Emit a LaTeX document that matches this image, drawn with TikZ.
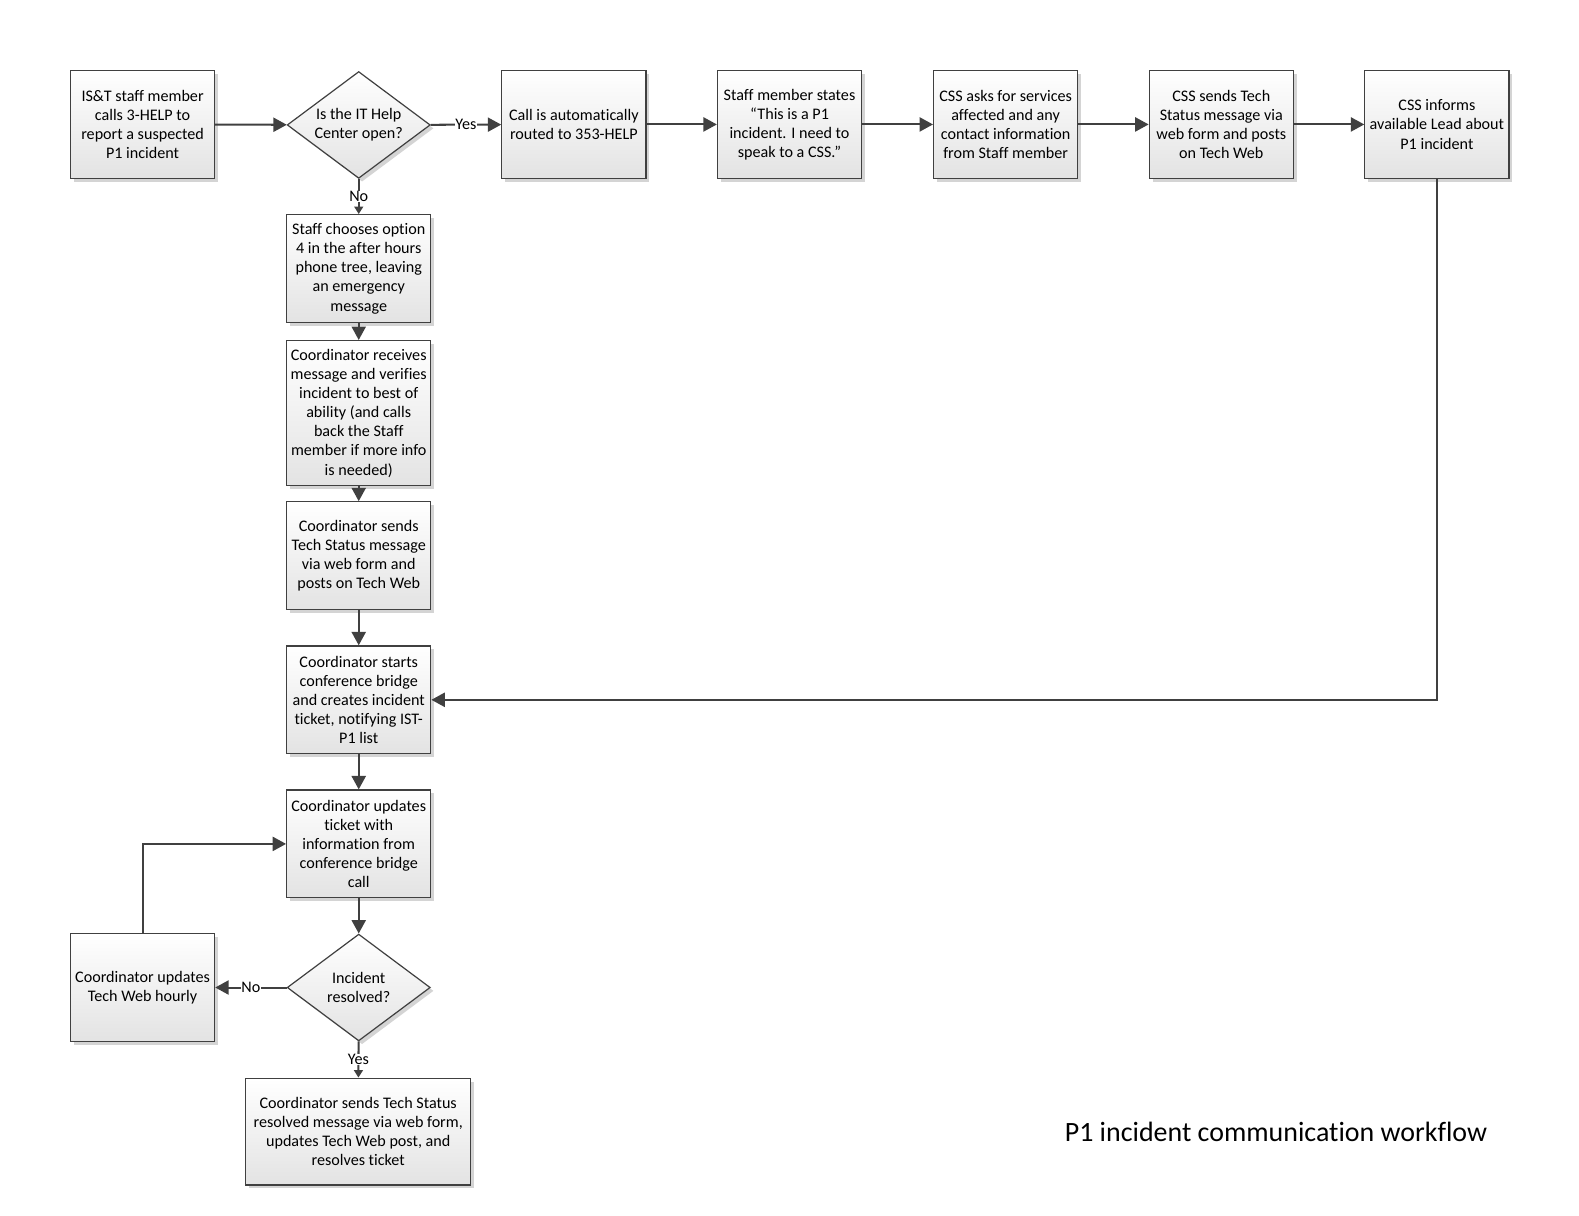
\documentclass[tikz,border=0pt]{standalone}
\usepackage{fontspec}
\setmainfont[Ligatures=NoCommon]{Carlito}
\usetikzlibrary{arrows.meta,shapes.geometric,shadows}
\definecolor{edge}{HTML}{404040}
\definecolor{shd}{HTML}{D4D4D4}
\tikzset{
  boxbase/.style={draw=edge, line width=0.9pt, top color=white, bottom color=black!11,
    general shadow={fill=shd, shadow xshift=2.5pt, shadow yshift=-2.5pt},
    align=center, inner sep=1pt,
    font=\fontsize{12pt}{14.25pt}\selectfont},
  stepbox/.style={boxbase, rectangle, minimum width=107.25pt, minimum height=80.25pt},
  tallbox/.style={boxbase, rectangle, minimum width=107.25pt, minimum height=108pt},
  widebox/.style={boxbase, rectangle, minimum width=167.25pt, minimum height=79.5pt},
  decide/.style={boxbase, diamond, minimum width=106.5pt, minimum height=79.5pt, inner sep=0pt},
  dtext/.style={align=center, font=\fontsize{12pt}{14.25pt}\selectfont},
  flow/.style={draw=edge, line width=1.5pt, -{Triangle[length=10pt,width=10.5pt]}},
  smallflow/.style={draw=edge, line width=1.5pt, -{Triangle[length=5.5pt,width=6.5pt]}},
  lbl/.style={fill=white, inner sep=0.5pt, font=\fontsize{12pt}{14.25pt}\selectfont}
}
\begin{document}
\begin{tikzpicture}[x=0.75pt,y=-0.75pt]
\useasboundingbox (0,0) rectangle (1567,1206.7);
% top row
\node[stepbox] (b1) at (141.5,123.5) {IS\&T staff member\\calls 3-HELP to\\report a suspected\\P1 incident};
\node[decide] (d1) at (356,124) {};
\node[dtext] (d1t) at (356,124) {Is the IT Help\\Center open?};
\node[stepbox] (b3) at (569.5,123.5) {Call is automatically\\routed to 353-HELP};
\node[stepbox] (b4) at (783.5,123.5) {Staff member states\\“This is a P1\\incident. I need to\\speak to a CSS.”};
\node[stepbox] (b5) at (998,123.5) {CSS asks for services\\affected and any\\contact information\\from Staff member};
\node[stepbox] (b6) at (1212,123.5) {CSS sends Tech\\Status message via\\web form and posts\\on Tech Web};
\node[stepbox] (b7) at (1426,123.5) {CSS informs\\available Lead about\\P1 incident};
% column
\node[stepbox] (b8) at (356,266.5) {Staff chooses option\\4 in the after hours\\phone tree, leaving\\an emergency\\message};
\node[tallbox] (b9) at (356,410) {Coordinator receives\\message and verifies\\incident to best of\\ability (and calls\\back the Staff\\member if more info\\is needed)};
\node[stepbox] (b10) at (356,551.5) {Coordinator sends\\Tech Status message\\via web form and\\posts on Tech Web};
\node[stepbox] (b11) at (356,694.5) {Coordinator starts\\conference bridge\\and creates incident\\ticket, notifying IST-\\P1 list};
\node[stepbox] (b12) at (356,837.5) {Coordinator updates\\ticket with\\information from\\conference bridge\\call};
\node[decide] (d2) at (356,980) {};
\node[dtext] (d2t) at (356,980) {Incident\\resolved?};
\node[stepbox] (b14) at (141.5,980) {Coordinator updates\\Tech Web hourly};
\node[widebox] (b15) at (355.5,1123) {Coordinator sends Tech Status\\resolved message via web form,\\updates Tech Web post, and\\resolves ticket};
\node[anchor=west, font=\fontsize{20.8pt}{25pt}\selectfont] (title) at (1052,1123) {P1 incident communication workflow};
% connectors
\draw[flow] (b1) -- (d1);
\draw[flow] (d1) -- node[lbl] {Yes} (b3);
\draw[flow] (b3) -- (b4);
\draw[flow] (b4) -- (b5);
\draw[flow] (b5) -- (b6);
\draw[flow] (b6) -- (b7);
\draw[smallflow] (d1) -- node[lbl] {No} (b8);
\draw[flow] (b8) -- (b9);
\draw[flow] (b9) -- (b10);
\draw[flow] (b10) -- (b11);
\draw[flow] (b11) -- (b12);
\draw[flow] (b12) -- (d2);
\draw[flow] (d2) -- node[lbl] {No} (b14);
\draw[smallflow] (d2) -- node[lbl] {Yes} (b15);
\draw[flow] (b7.south) |- (b11.east);
\draw[flow] (b14.north) |- (b12.west);
\end{tikzpicture}
\end{document}
